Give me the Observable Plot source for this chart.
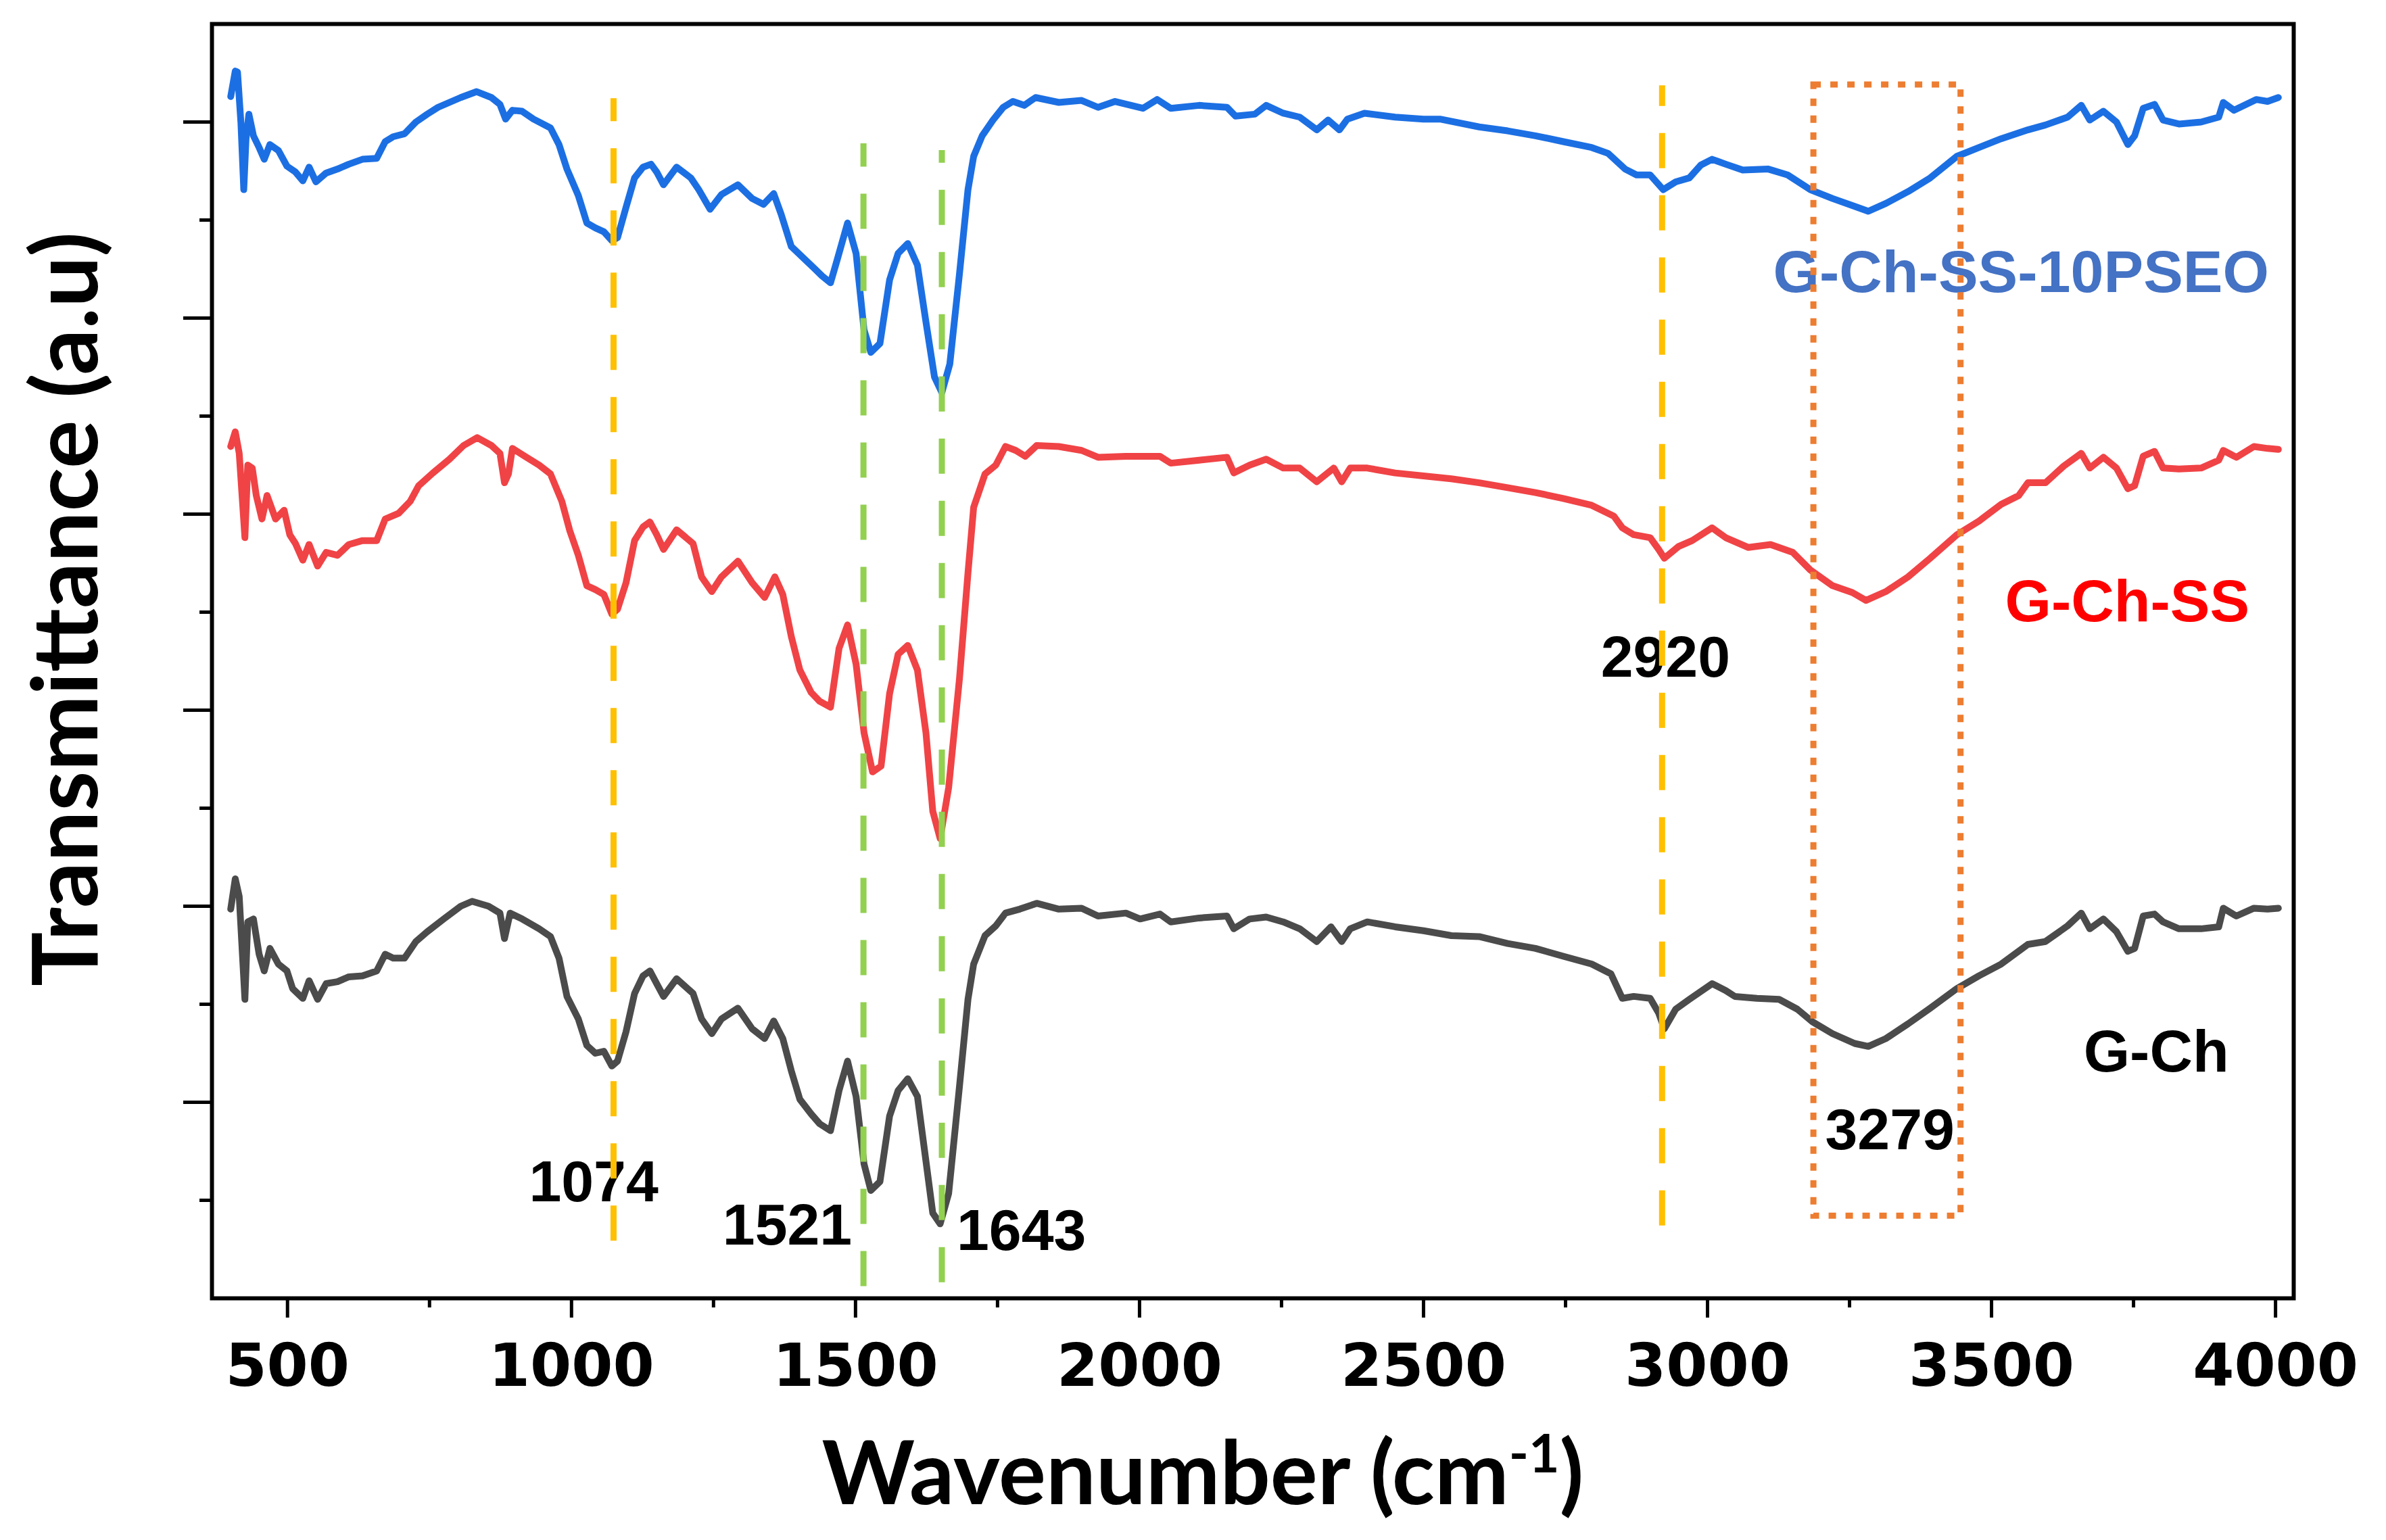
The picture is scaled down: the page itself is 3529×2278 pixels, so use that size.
<!DOCTYPE html>
<html>
<head>
<meta charset="utf-8">
<script src="https://cdn.jsdelivr.net/npm/d3@7"></script>
<script src="https://cdn.jsdelivr.net/npm/@observablehq/plot@0.6"></script>
<style>
  html, body { margin: 0; padding: 0; background: #fff; }
  #chart svg { display: block; }
</style>
</head>
<body>
<div id="chart"></div>
<script>
// ---------- data (transmittance in arbitrary units, offset traces) ----------
const pseoWn = [400,408,412,418,423,427,432,440,450,459,469,484,499,514,527,538,550,568,588,608,632,657,672,686,706,726,746,765,785,805,833,859,874,884,896,913,933,963,978,992,1012,1027,1042,1057,1071,1081,1096,1111,1126,1140,1150,1162,1185,1210,1224,1244,1264,1293,1318,1338,1356,1369,1387,1407,1427,1441,1456,1468,1486,1501,1515,1527,1543,1560,1575,1592,1609,1624,1639,1652,1666,1683,1698,1708,1723,1742,1760,1777,1797,1817,1858,1898,1927,1957,2006,2031,2055,2105,2154,2169,2203,2223,2253,2282,2312,2332,2352,2366,2396,2450,2500,2529,2598,2648,2697,2746,2796,2825,2855,2875,2899,2922,2944,2968,2988,3008,3032,3062,3107,3141,3181,3220,3259,3283,3314,3353,3392,3439,3478,3517,3564,3595,3634,3658,3673,3697,3720,3740,3752,3767,3787,3802,3830,3869,3900,3908,3927,3966,3986,4005];
const pseoT = [12.26,12.52,12.51,11.99,11.31,11.83,12.08,11.86,11.74,11.62,11.77,11.71,11.55,11.49,11.40,11.54,11.39,11.48,11.52,11.57,11.62,11.63,11.80,11.85,11.88,12.00,12.08,12.15,12.20,12.25,12.31,12.25,12.18,12.03,12.12,12.11,12.03,11.94,11.77,11.52,11.25,10.97,10.92,10.88,10.79,10.82,11.13,11.43,11.54,11.57,11.49,11.36,11.54,11.43,11.31,11.11,11.26,11.36,11.22,11.16,11.27,11.06,10.73,10.62,10.51,10.43,10.36,10.60,10.97,10.66,9.88,9.65,9.74,10.39,10.66,10.76,10.54,9.96,9.40,9.24,9.53,10.45,11.31,11.65,11.86,12.02,12.15,12.21,12.17,12.25,12.20,12.22,12.15,12.21,12.14,12.23,12.14,12.17,12.15,12.06,12.08,12.17,12.09,12.05,11.92,12.02,11.92,12.03,12.09,12.05,12.03,12.03,11.95,11.91,11.86,11.80,11.74,11.68,11.52,11.46,11.46,11.31,11.39,11.43,11.56,11.62,11.57,11.51,11.52,11.46,11.31,11.22,11.14,11.09,11.17,11.29,11.43,11.65,11.74,11.83,11.92,11.97,12.05,12.17,12.02,12.11,12.00,11.77,11.86,12.14,12.18,12.02,11.98,12.00,12.05,12.20,12.12,12.23,12.21,12.25];

const ssWn = [400,408,415,425,430,438,445,455,464,479,494,504,514,527,538,553,568,588,608,632,657,672,696,716,731,756,785,810,834,859,874,882,889,896,918,943,963,983,997,1012,1027,1042,1057,1071,1081,1096,1111,1126,1138,1150,1162,1185,1214,1229,1247,1264,1293,1318,1340,1358,1372,1387,1402,1422,1437,1456,1471,1486,1501,1515,1530,1545,1560,1575,1592,1609,1624,1636,1649,1664,1683,1698,1708,1728,1747,1764,1782,1799,1819,1858,1898,1927,1976,2036,2055,2105,2154,2166,2194,2223,2253,2282,2312,2342,2356,2371,2401,2450,2500,2549,2598,2648,2697,2746,2796,2835,2850,2870,2899,2914,2924,2949,2973,3008,3032,3072,3111,3150,3181,3220,3255,3279,3314,3353,3392,3439,3478,3517,3548,3564,3595,3627,3658,3673,3697,3720,3740,3752,3767,3787,3802,3830,3869,3900,3908,3931,3962,3986,4005];
const ssT = [8.69,8.84,8.62,7.76,8.50,8.47,8.19,7.95,8.19,7.95,8.04,7.79,7.70,7.53,7.69,7.47,7.61,7.58,7.69,7.73,7.73,7.95,8.01,8.13,8.29,8.42,8.56,8.70,8.78,8.70,8.62,8.32,8.41,8.67,8.59,8.50,8.41,8.13,7.83,7.58,7.27,7.23,7.18,6.98,7.03,7.30,7.73,7.87,7.92,7.79,7.64,7.84,7.70,7.36,7.21,7.36,7.52,7.30,7.15,7.36,7.18,6.75,6.41,6.18,6.09,6.03,6.63,6.87,6.47,5.77,5.37,5.43,6.17,6.57,6.66,6.41,5.77,4.97,4.69,5.21,6.32,7.40,8.07,8.41,8.50,8.69,8.65,8.59,8.70,8.69,8.65,8.58,8.59,8.59,8.52,8.55,8.58,8.42,8.50,8.56,8.47,8.47,8.33,8.47,8.33,8.47,8.47,8.42,8.39,8.36,8.32,8.27,8.22,8.16,8.09,7.98,7.86,7.79,7.76,7.64,7.55,7.67,7.73,7.86,7.76,7.66,7.69,7.61,7.43,7.27,7.20,7.12,7.21,7.36,7.55,7.79,7.93,8.10,8.19,8.32,8.32,8.49,8.62,8.47,8.58,8.47,8.26,8.29,8.59,8.64,8.47,8.46,8.47,8.55,8.65,8.58,8.69,8.67,8.66];

const gchWn = [400,408,415,425,430,440,450,459,469,484,499,509,527,538,553,568,588,608,632,657,672,686,706,726,746,775,805,825,854,874,882,892,913,943,963,978,992,1012,1027,1042,1057,1071,1081,1096,1111,1126,1138,1150,1162,1185,1214,1229,1247,1264,1293,1318,1340,1356,1372,1387,1402,1422,1437,1456,1471,1486,1501,1515,1527,1543,1560,1575,1592,1609,1624,1636,1649,1664,1683,1698,1708,1728,1747,1764,1789,1819,1858,1898,1927,1976,2001,2036,2055,2105,2154,2166,2194,2223,2253,2282,2312,2337,2356,2371,2401,2450,2500,2549,2598,2648,2697,2746,2796,2830,2850,2870,2899,2914,2924,2944,2968,3008,3032,3048,3087,3126,3158,3185,3220,3259,3283,3314,3353,3392,3439,3478,3517,3564,3595,3634,3658,3673,3697,3720,3740,3752,3767,3787,3802,3830,3869,3900,3908,3931,3962,3986,4005];
const gchT = [3.97,4.28,4.10,3.05,3.84,3.87,3.51,3.34,3.57,3.41,3.34,3.16,3.06,3.24,3.05,3.21,3.23,3.28,3.29,3.34,3.51,3.47,3.47,3.64,3.74,3.87,4.00,4.05,4.00,3.93,3.67,3.93,3.87,3.77,3.69,3.47,3.08,2.85,2.58,2.50,2.52,2.37,2.42,2.72,3.11,3.29,3.34,3.21,3.08,3.26,3.11,2.85,2.70,2.85,2.96,2.75,2.65,2.83,2.65,2.32,2.03,1.88,1.78,1.71,2.12,2.42,2.06,1.37,1.10,1.19,1.86,2.12,2.24,2.06,1.40,0.87,0.76,1.07,2.16,3.05,3.41,3.70,3.80,3.93,3.97,4.03,3.97,3.98,3.90,3.93,3.87,3.92,3.84,3.88,3.90,3.77,3.87,3.89,3.84,3.77,3.64,3.79,3.64,3.77,3.84,3.79,3.75,3.70,3.69,3.62,3.57,3.49,3.41,3.31,3.06,3.08,3.06,2.91,2.75,2.95,3.05,3.21,3.14,3.08,3.06,3.05,2.95,2.82,2.70,2.60,2.57,2.65,2.80,2.96,3.16,3.29,3.41,3.61,3.64,3.80,3.93,3.77,3.87,3.74,3.54,3.57,3.90,3.92,3.84,3.77,3.77,3.79,3.98,3.90,3.98,3.97,3.98];

// axis ticks
const xMajorTicks = [500, 1000, 1500, 2000, 2500, 3000, 3500, 4000];
const xMinorTicks = [750, 1250, 1750, 2250, 2750, 3250, 3750];
const yMajorTicks = [2, 4, 6, 8, 10, 12];
const yMinorTicks = [1, 3, 5, 7, 9, 11];

// series labels
const seriesNames = ["G-Ch-SS-10PSEO", "G-Ch-SS", "G-Ch"];
const seriesColors = ["#1C6FE3", "#F04346", "#4B4B4B"];
const seriesLabelColors = ["#4472C4", "#FF0000", "#000000"];
const seriesLabelWn = [3552, 3739, 3790];
const seriesLabelT = [10.46, 7.10, 2.51];

// peak annotations
const peakText = ["1074", "1521", "1643", "2920", "3279"];
const peakTextWn = [1039, 1380, 1792, 2926, 3321];
const peakTextT = [1.18, 0.74, 0.68, 6.53, 1.71];

// guide lines
const orangeLineWn = [1074, 2920];
const orangeLineTop = [12.24, 12.37];
const orangeLineBottom = [0.585, 0.74];
const greenLineWn = [1514, 1652];
const greenLineTop = [11.78, 11.71];
const greenLineBottom = [0.12, 0.16];

// dotted box around the O-H / N-H band
const boxWn = [3187, 3446];
const boxT = [0.84, 12.38];

// ---------- build tables ----------
const traces = [
  ...pseoWn.map((w, i) => ({wn: w, t: pseoT[i], s: seriesNames[0]})),
  ...ssWn.map((w, i) => ({wn: w, t: ssT[i], s: seriesNames[1]})),
  ...gchWn.map((w, i) => ({wn: w, t: gchT[i], s: seriesNames[2]}))
];
const seriesLabels = seriesNames.map((n, i) => ({n, wn: seriesLabelWn[i], t: seriesLabelT[i], c: seriesLabelColors[i]}));
const peaks = peakText.map((p, i) => ({p, wn: peakTextWn[i], t: peakTextT[i]}));
const orangeLines = orangeLineWn.map((w, i) => ({wn: w, y1: orangeLineBottom[i], y2: orangeLineTop[i]}));
const greenLines = greenLineWn.map((w, i) => ({wn: w, y1: greenLineBottom[i], y2: greenLineTop[i]}));
const box = [{x1: boxWn[0], x2: boxWn[1], y1: boxT[0], y2: boxT[1]}];

const labelFont = "'Liberation Sans', Arial, sans-serif";

const plot = Plot.plot({
  width: 3529,
  height: 2278,
  marginTop: 35,
  marginRight: 137,
  marginBottom: 358,
  marginLeft: 313,
  style: {background: "#fff", color: "#000"},
  x: {domain: [367, 4032]},
  y: {domain: [0, 13]},
  color: {domain: seriesNames, range: seriesColors},
  marks: [
    Plot.line(traces, {x: "wn", y: "t", z: "s", stroke: "s", strokeWidth: 10, curve: "linear", strokeLinejoin: "round", strokeLinecap: "round"}),
    Plot.text(seriesLabels, {x: "wn", y: "t", text: "n", fill: "c", fontSize: 88, fontWeight: "bold", fontFamily: labelFont, textAnchor: "middle", lineAnchor: "middle"}),
    Plot.text(peaks, {x: "wn", y: "t", text: "p", fill: "#000", fontSize: 86, fontWeight: "bold", fontFamily: labelFont, textAnchor: "middle", lineAnchor: "middle"}),
    Plot.ruleX(orangeLines, {x: "wn", y1: "y1", y2: "y2", stroke: "#FFC000", strokeWidth: 9, strokeDasharray: "52,40"}),
    Plot.ruleX(greenLines, {x: "wn", y1: "y1", y2: "y2", stroke: "#92D050", strokeWidth: 9, strokeDasharray: "52,40"}),
    Plot.rect(box, {x1: "x1", x2: "x2", y1: "y1", y2: "y2", fill: "none", stroke: "#ED7D31", strokeWidth: 9, strokeDasharray: "11,14"}),
    Plot.axisX({ticks: xMajorTicks, tickSize: 29, tickPadding: 38, strokeWidth: 5, tickFormat: (d) => String(d), fontSize: 88, fontWeight: "bold", fontFamily: "'DejaVu Sans', sans-serif", label: null}),
    Plot.axisX({ticks: xMinorTicks, tickSize: 14, strokeWidth: 5, tickFormat: () => "", label: null}),
    Plot.axisY({ticks: yMajorTicks, tickSize: 42, strokeWidth: 5, tickFormat: () => "", label: null}),
    Plot.axisY({ticks: yMinorTicks, tickSize: 18, strokeWidth: 5, tickFormat: () => "", label: null}),
    Plot.frame({stroke: "#000", strokeWidth: 6}),
    Plot.text(["Wavenumber (cm-1)"], {frameAnchor: "bottom", dx: -74, dy: 263, textAnchor: "middle", lineAnchor: "middle", fontSize: 131, fontWeight: "bold", fontFamily: "Lato, sans-serif", fill: "#000", className: "xlabel"}),
    Plot.text(["Transmittance (a.u)"], {frameAnchor: "left", dx: -212, dy: -77, rotate: -90, textAnchor: "middle", lineAnchor: "middle", fontSize: 134, fontWeight: "bold", fontFamily: "Lato, sans-serif", fill: "#000"})
  ]
});

document.getElementById("chart").appendChild(plot);

// superscript for cm-1
d3.select(plot).selectAll(".xlabel text").each(function () {
  const t = d3.select(this);
  t.text("");
  t.append("tspan").text("Wavenumber (cm");
  t.append("tspan").attr("baseline-shift", "super").attr("font-size", "60%").text("-1");
  t.append("tspan").text(")");
});
</script>
</body>
</html>
